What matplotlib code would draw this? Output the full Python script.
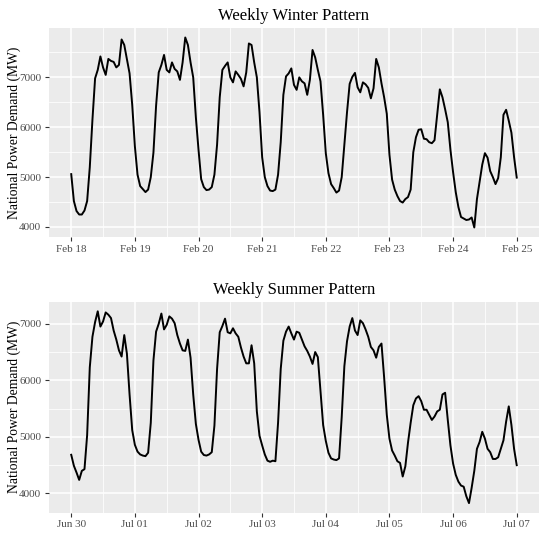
import numpy as np
import matplotlib
matplotlib.use("Agg")
import matplotlib.pyplot as plt
from matplotlib.ticker import MultipleLocator

# ---------------- data (hourly readings, MW) ----------------
winter_labels = ["Feb 18", "Feb 19", "Feb 20", "Feb 21", "Feb 22", "Feb 23", "Feb 24", "Feb 25"]
summer_labels = ["Jun 30", "Jul 01", "Jul 02", "Jul 03", "Jul 04", "Jul 05", "Jul 06", "Jul 07"]

w_feb18 = [5060, 4520, 4320, 4250, 4250, 4330, 4520, 5200, 6150, 6980, 7150, 7420,
           7200, 7050, 7370, 7330, 7310, 7200, 7250, 7760, 7650, 7370, 7080, 6450]
w_feb19 = [5620, 5050, 4820, 4760, 4700, 4750, 5000, 5490, 6430, 7100, 7250, 7450,
           7150, 7100, 7300, 7170, 7120, 6950, 7300, 7800, 7650, 7300, 7000, 6200]
w_feb20 = [5550, 4960, 4800, 4740, 4750, 4800, 5050, 5650, 6600, 7150, 7230, 7300,
           7000, 6900, 7120, 7050, 6970, 6820, 7100, 7680, 7650, 7300, 7000, 6300]
w_feb21 = [5400, 5000, 4820, 4730, 4720, 4750, 5050, 5700, 6650, 7020, 7080, 7180,
           6850, 6750, 7000, 6920, 6880, 6650, 6950, 7550, 7400, 7150, 6920, 6250]
w_feb22 = [5480, 5080, 4860, 4780, 4690, 4730, 5000, 5650, 6300, 6870, 7010, 7090,
           6800, 6700, 6900, 6860, 6790, 6580, 6780, 7370, 7200, 6880, 6600, 6270]
w_feb23 = [5450, 4950, 4750, 4620, 4520, 4490, 4560, 4600, 4750, 5500, 5800, 5950,
           5960, 5770, 5760, 5700, 5680, 5740, 6250, 6760, 6600, 6360, 6100, 5550]
w_feb24 = [5100, 4700, 4400, 4200, 4170, 4140, 4150, 4190, 3990, 4560, 4900, 5250,
           5480, 5390, 5120, 5000, 4860, 4980, 5400, 6250, 6350, 6130, 5890, 5400]
w_end = [4990]

s_jun30 = [4684, 4490, 4370, 4240, 4400, 4430, 5030, 6230, 6770, 7030, 7220, 6950,
           7040, 7200, 7160, 7100, 6880, 6720, 6530, 6420, 6800, 6470, 5750, 5120]
s_jul01 = [4860, 4740, 4690, 4670, 4660, 4720, 5250, 6350, 6860, 7000, 7180, 6900,
           6980, 7130, 7090, 7010, 6800, 6650, 6530, 6520, 6720, 6400, 5750, 5230]
s_jul02 = [4950, 4740, 4680, 4670, 4690, 4730, 5200, 6200, 6850, 6960, 7090, 6850,
           6830, 6920, 6830, 6770, 6580, 6420, 6300, 6300, 6620, 6300, 5450, 5020]
s_jul03 = [4850, 4690, 4580, 4560, 4580, 4570, 5250, 6200, 6700, 6860, 6950, 6830,
           6720, 6860, 6840, 6720, 6600, 6520, 6420, 6290, 6500, 6410, 5810, 5210]
s_jul04 = [4930, 4720, 4620, 4600, 4590, 4620, 5350, 6250, 6690, 6950, 7100, 6880,
           6800, 7060, 7010, 6900, 6770, 6590, 6530, 6400, 6590, 6650, 6050, 5390]
s_jul05 = [4970, 4760, 4670, 4570, 4540, 4300, 4480, 4900, 5250, 5560, 5680, 5720,
           5630, 5480, 5480, 5390, 5300, 5360, 5450, 5480, 5750, 5780, 5300, 4850]
s_jul06 = [4530, 4330, 4210, 4140, 4120, 3950, 3830, 4100, 4400, 4790, 4910, 5090,
           4970, 4790, 4730, 4610, 4610, 4640, 4790, 4940, 5270, 5540, 5210, 4790]
s_end = [4500]

winter = np.array(w_feb18 + w_feb19 + w_feb20 + w_feb21 + w_feb22 + w_feb23 + w_feb24 + w_end)
summer = np.array(s_jun30 + s_jul01 + s_jul02 + s_jul03 + s_jul04 + s_jul05 + s_jul06 + s_end)

# ---------------- style ----------------
serif = ["Liberation Serif", "DejaVu Serif"]
plt.rcParams["font.family"] = serif
BG = "#EBEBEB"

fig = plt.figure(figsize=(5.5, 5.34), dpi=100)
ax1 = fig.add_axes([0.089, 0.5562, 0.891, 0.3914])
ax2 = fig.add_axes([0.089, 0.0399, 0.891, 0.3951])


def style(ax, values, labels, title):
    days = np.arange(len(values)) / 24.0
    ax.plot(days, values, color="black", lw=1.4, solid_joinstyle="round")
    ax.set_facecolor(BG)
    for s in ax.spines.values():
        s.set_visible(False)
    ax.margins(x=0.05, y=0.05)
    ax.set_xticks(np.arange(len(labels)))
    ax.set_xticklabels(labels)
    ax.xaxis.set_minor_locator(MultipleLocator(0.5))
    ax.yaxis.set_major_locator(MultipleLocator(1000))
    ax.yaxis.set_minor_locator(MultipleLocator(500))
    ax.grid(which="major", color="white", lw=1.1)
    ax.grid(which="minor", color="white", lw=0.55)
    ax.set_axisbelow(True)
    ax.tick_params(which="major", length=3, width=0.8, color="#333333",
                   labelcolor="#4D4D4D", labelsize=8, pad=2.5)
    ax.tick_params(which="minor", length=0)
    ax.set_ylabel("National Power Demand (MW)", fontsize=9.8, color="black")
    ax.yaxis.set_label_coords(-0.057, 0.5)
    ax.set_title(title, fontsize=12, color="black", pad=5.5)


style(ax1, winter, winter_labels, "Weekly Winter Pattern")
style(ax2, summer, summer_labels, "Weekly Summer Pattern")

fig.savefig("out.png", dpi=100, facecolor="white")
